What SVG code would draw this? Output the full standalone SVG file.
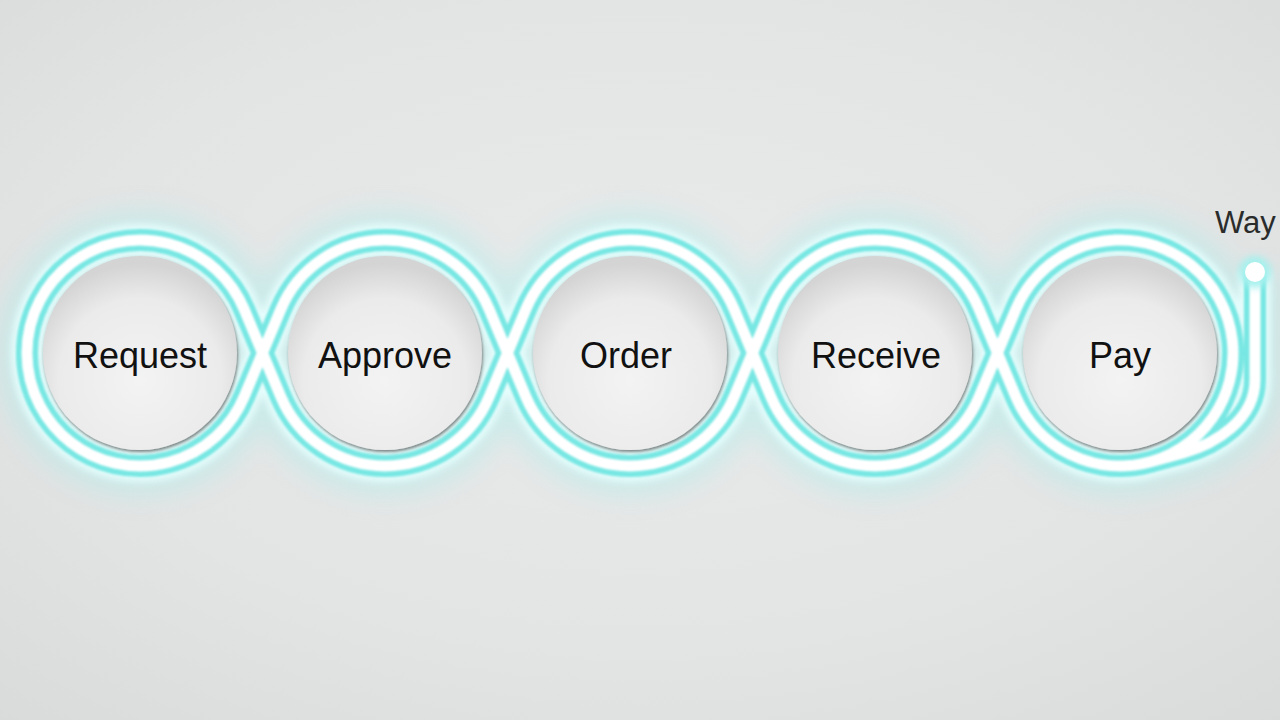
<svg xmlns="http://www.w3.org/2000/svg" xmlns:xlink="http://www.w3.org/1999/xlink" width="1280" height="720" viewBox="0 0 1280 720">
  <defs>
    <radialGradient id="bg" cx="50%" cy="45%" r="75%">
      <stop offset="0" stop-color="#e9eaea"/>
      <stop offset="0.6" stop-color="#e3e4e4"/>
      <stop offset="1" stop-color="#d9dada"/>
    </radialGradient>
    <radialGradient id="disc" cx="50%" cy="64%" r="60%">
      <stop offset="0" stop-color="#f3f3f3"/>
      <stop offset="0.7" stop-color="#ebebeb"/>
      <stop offset="1" stop-color="#d4d4d4"/>
    </radialGradient>
    <filter id="halo" x="-10%" y="-40%" width="120%" height="180%">
      <feGaussianBlur stdDeviation="12"/>
    </filter>
    <filter id="glow" x="-10%" y="-40%" width="120%" height="180%">
      <feGaussianBlur stdDeviation="3.5"/>
    </filter>
    <filter id="soft" x="-10%" y="-40%" width="120%" height="180%">
      <feGaussianBlur stdDeviation="1"/>
    </filter>
    <filter id="shadow" x="-20%" y="-20%" width="140%" height="140%">
      <feDropShadow dx="1" dy="2" stdDeviation="1.4" flood-color="#4a4a4a" flood-opacity="0.65"/>
    </filter>
    <path id="wire" d="M 1255 272 L 1255 380 C 1255 420 1215 444 1183 453 L 1149.2 462.1 A 113 113 0 0 1 1015.8 396.6 L 979.2 309.4 A 113 113 0 0 0 770.8 309.4 L 734.2 396.6 A 113 113 0 0 1 525.8 396.6 L 489.2 309.4 A 113 113 0 0 0 280.8 309.4 L 244.2 396.6 A 113 113 0 1 1 244.2 309.4 L 280.8 396.6 A 113 113 0 0 0 489.2 396.6 L 525.8 309.4 A 113 113 0 0 1 734.2 309.4 L 770.8 396.6 A 113 113 0 0 0 979.2 396.6 L 1015.8 309.4 A 113 113 0 1 1 1100.4 464.3"/>
  </defs>
  <style>
    .halo { fill: none; stroke: #a6f1ee; stroke-width: 60; opacity: 0.4; }
    .glow { fill: none; stroke: #e8fffe; stroke-width: 32; opacity: 0.9; }
    .band { fill: none; stroke: #78e7e3; stroke-width: 22; stroke-linejoin: round; }
    .core { fill: none; stroke: #ffffff; stroke-width: 11; stroke-linejoin: round; stroke-linecap: round; }
    .disc { fill: url(#disc); }
    .label { font-family: "Liberation Sans", Arial, sans-serif; font-size: 36px; fill: #111111; text-anchor: middle; }
    .way { font-family: "Liberation Sans", Arial, sans-serif; font-size: 31px; fill: #2a2c2c; }
  </style>

  <rect width="1280" height="720" fill="url(#bg)"/>

  <g id="connectors">
    <use xlink:href="#wire" class="halo" filter="url(#halo)"/>
    <use xlink:href="#wire" class="glow" filter="url(#glow)"/>
    <use xlink:href="#wire" class="band" filter="url(#soft)"/>
    <use xlink:href="#wire" class="core" filter="url(#soft)"/>
    <circle cx="1255" cy="272" r="16" fill="#a6f1ee" filter="url(#glow)"/>
    <circle cx="1255" cy="272" r="10" fill="#ffffff"/>
  </g>

  <g id="node-request">
    <circle class="disc" cx="140" cy="353" r="97" filter="url(#shadow)"/>
    <text class="label" x="140" y="368">Request</text>
  </g>
  <g id="node-approve">
    <circle class="disc" cx="385" cy="353" r="97" filter="url(#shadow)"/>
    <text class="label" x="385" y="368">Approve</text>
  </g>
  <g id="node-order">
    <circle class="disc" cx="630" cy="353" r="97" filter="url(#shadow)"/>
    <text class="label" x="626" y="368">Order</text>
  </g>
  <g id="node-receive">
    <circle class="disc" cx="875" cy="353" r="97" filter="url(#shadow)"/>
    <text class="label" x="876" y="368">Receive</text>
  </g>
  <g id="node-pay">
    <circle class="disc" cx="1120" cy="353" r="97" filter="url(#shadow)"/>
    <text class="label" x="1120" y="368">Pay</text>
  </g>
  <g id="label-way">
    <text class="way" x="1215" y="233">Way</text>
  </g>
</svg>
